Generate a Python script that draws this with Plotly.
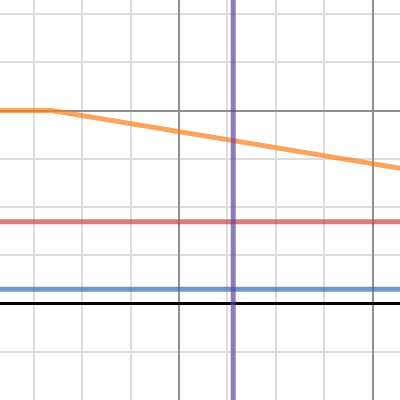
import plotly.graph_objects as go

# -------------------- data (graph units) --------------------
X_RANGE = [0.302, 8.566]
Y_RANGE = [-2.006, 6.293]

orange_x = [0.0, 1.37, 9.0]
orange_y = [4.0, 4.0, 4.0 - (9.0 - 1.37) / 6.0]

red_y = 1.69
blue_y = 0.29
purple_x = 5.12

# desmos palette, drawn at 0.7 opacity
ORANGE = "rgba(250,126,25,0.7)"
RED = "rgba(199,68,64,0.7)"
BLUE = "rgba(45,112,179,0.7)"
PURPLE = "rgba(96,66,166,0.7)"

fig = go.Figure()

fig.add_trace(go.Scatter(x=[-1, 10], y=[red_y, red_y], mode="lines",
                         line=dict(color=RED, width=5)))
fig.add_trace(go.Scatter(x=[-1, 10], y=[blue_y, blue_y], mode="lines",
                         line=dict(color=BLUE, width=5)))
fig.add_trace(go.Scatter(x=orange_x, y=orange_y, mode="lines",
                         line=dict(color=ORANGE, width=5)))
fig.add_trace(go.Scatter(x=[purple_x, purple_x], y=[-5, 10], mode="lines",
                         line=dict(color=PURPLE, width=5)))

axis_common = dict(
    tick0=0, dtick=4, showgrid=True, gridcolor="#8f8f8f", gridwidth=2,
    minor=dict(dtick=1, showgrid=True, gridcolor="#dddddd", gridwidth=2),
    showticklabels=False, ticks="", showline=False,
)

fig.update_xaxes(range=X_RANGE, zeroline=False, **axis_common)
fig.update_yaxes(range=Y_RANGE, zeroline=True, zerolinecolor="black",
                 zerolinewidth=3, **axis_common)

fig.update_layout(
    width=400, height=400,
    margin=dict(l=0, r=0, t=0, b=0),
    paper_bgcolor="white", plot_bgcolor="white",
    showlegend=False,
)

# drop the default 8px body margin so the plot fills the window
fig.write_html("out.html", config={"displayModeBar": False},
               post_script="document.body.style.margin='0';")
